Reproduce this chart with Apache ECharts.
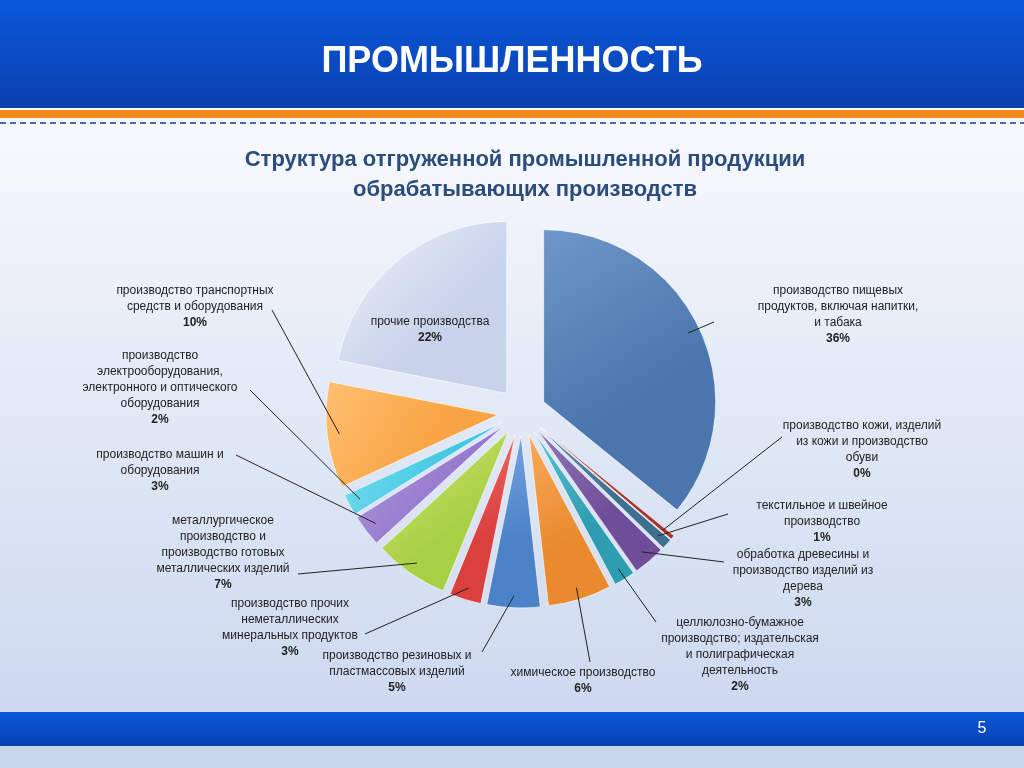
<!DOCTYPE html>
<html><head><meta charset="utf-8">
<script src="https://cdn.jsdelivr.net/npm/echarts@6/dist/echarts.min.js"></script>
<style>html,body{margin:0;padding:0}#c{width:1024px;height:768px}</style>
</head><body><div id="c"></div>
<script>
const names = [
 'производство пищевых\nпродуктов, включая напитки,\nи табака',
 'производство кожи, изделий\nиз кожи и производство\nобуви',
 'текстильное и швейное\nпроизводство',
 'обработка древесины и\nпроизводство изделий из\nдерева',
 'целлюлозно-бумажное\nпроизводство; издательская\nи полиграфическая\nдеятельность',
 'химическое производство',
 'производство резиновых и\nпластмассовых изделий',
 'производство прочих\nнеметаллических\nминеральных продуктов',
 'металлургическое\nпроизводство и\nпроизводство готовых\nметаллических изделий',
 'производство машин и\nоборудования',
 'производство\nэлектрооборудования,\nэлектронного и оптического\nоборудования',
 'производство транспортных\nсредств и оборудования',
 'прочие производства'
];
const values = [36, 0.4, 1, 3, 2, 6, 5, 3, 7, 3, 2, 10, 22];
const colors = ['#4a76ad','#a8342c','#3e6f8e','#6e4e98','#2e9db0','#e98a2e','#4b82c8','#d9403e','#a8d044','#9478cc','#44c8e2','#f8a444','#c8d2ea'];
const light = ['#6f97c8','#c85a50','#6090b0','#9076b8','#5cc0d0','#f8aa5a','#78a4e0','#f06a66','#cce878','#b49ce0','#80e0f0','#ffc070','#eef2fb'];
// label placement: [text centre x, text top y, leader anchor x, leader anchor y]
const labelSpots = [[838,283,714,322],[862,418,782,437],[822,498,728,514],[803,547,724,562],[740,615,656,622],[583,665,590,662],[397,648,482,652],[290,596,365,634],[223,513,298,574],[160,447,236,455],[160,348,250,390],[195,283,272,310],[430,314,null,null]];
const OFFSET = 24;

const chart = echarts.init(document.getElementById('c'));
const blue = {type:'linear',x:0,y:0,x2:0,y2:1,colorStops:[{offset:0,color:'#0a58d8'},{offset:1,color:'#0a40b0'}]};
chart.setOption({
 animation:false,
 backgroundColor:{type:'linear',x:0,y:0,x2:0,y2:1,colorStops:[{offset:0,color:'#ffffff'},{offset:1,color:'#c8d6ee'}]},
 graphic:[
  {id:'hdr',type:'rect',shape:{x:0,y:0,width:1024,height:108},style:{fill:blue}},
  {id:'or',type:'rect',shape:{x:0,y:110,width:1024,height:8},style:{fill:'#f08a1a'}},
  {id:'dash',type:'line',shape:{x1:0,y1:123,x2:1024,y2:123},style:{stroke:'#4a6aa8',lineWidth:2,lineDash:[6,4]}},
  {id:'t1',type:'text',x:512,y:62,style:{text:'ПРОМЫШЛЕННОСТЬ',fill:'#fff',font:'bold 36px "Liberation Sans", Arial',align:'center',verticalAlign:'middle'}},
  {id:'t2',type:'text',x:525,y:175,style:{text:'Структура отгруженной промышленной продукции\nобрабатывающих производств',fill:'#2c4c7c',font:'bold 22px "Liberation Sans", Arial',align:'center',verticalAlign:'middle',lineHeight:30}},
  {id:'ftr',type:'rect',shape:{x:0,y:712,width:1024,height:34},style:{fill:blue}},
  {id:'pg',type:'text',x:982,y:729,style:{text:'5',fill:'#fff',font:'16px "Liberation Sans", Arial',align:'center',verticalAlign:'middle'}}
 ],
 series:[{
  type:'pie',
  center:[522,412],
  radius:[0,172],
  startAngle:90,
  clockwise:true,
  selectedMode:'multiple',
  selectedOffset:OFFSET,
  data: values.map((v,i)=>({name:names[i],value:v,selected:true,
    itemStyle:{color:{type:'linear',x:0,y:0,x2:1,y2:1,colorStops:[{offset:0,color:light[i]},{offset:0.6,color:colors[i]},{offset:1,color:colors[i]}]},borderColor:'rgba(255,255,255,0.6)',borderWidth:1}
  })),
  label:{show:false},
  labelLine:{show:false},
  emphasis:{disabled:true}
 }]
});

// labels and leader lines, anchored to the slice geometry computed by ECharts
const data = chart.getModel().getSeriesByIndex(0).getData();
const extra = [];
values.forEach((v,i)=>{
  const s = labelSpots[i];
  extra.push({id:'lb'+i,type:'text',x:s[0],y:s[1],z:10,style:{
    text:names[i]+'\n{b|'+Math.round(v)+'%}',fill:'#222',font:'12px "Liberation Sans", Arial',
    align:'center',verticalAlign:'top',lineHeight:16,
    rich:{b:{fontWeight:'bold',fontSize:12,lineHeight:16,fill:'#222'}}}});
  if (s[2]===null) return;
  const L = data.getItemLayout(i);
  const mid = (L.startAngle+L.endAngle)/2;
  const rr = L.r*0.93 + OFFSET;
  const px = L.cx + rr*Math.cos(mid), py = L.cy + rr*Math.sin(mid);
  extra.push({id:'ln'+i,type:'line',z:10,shape:{x1:s[2],y1:s[3],x2:px,y2:py},style:{stroke:'#222',lineWidth:1}});
});
chart.setOption({graphic:extra});
</script></body></html>
